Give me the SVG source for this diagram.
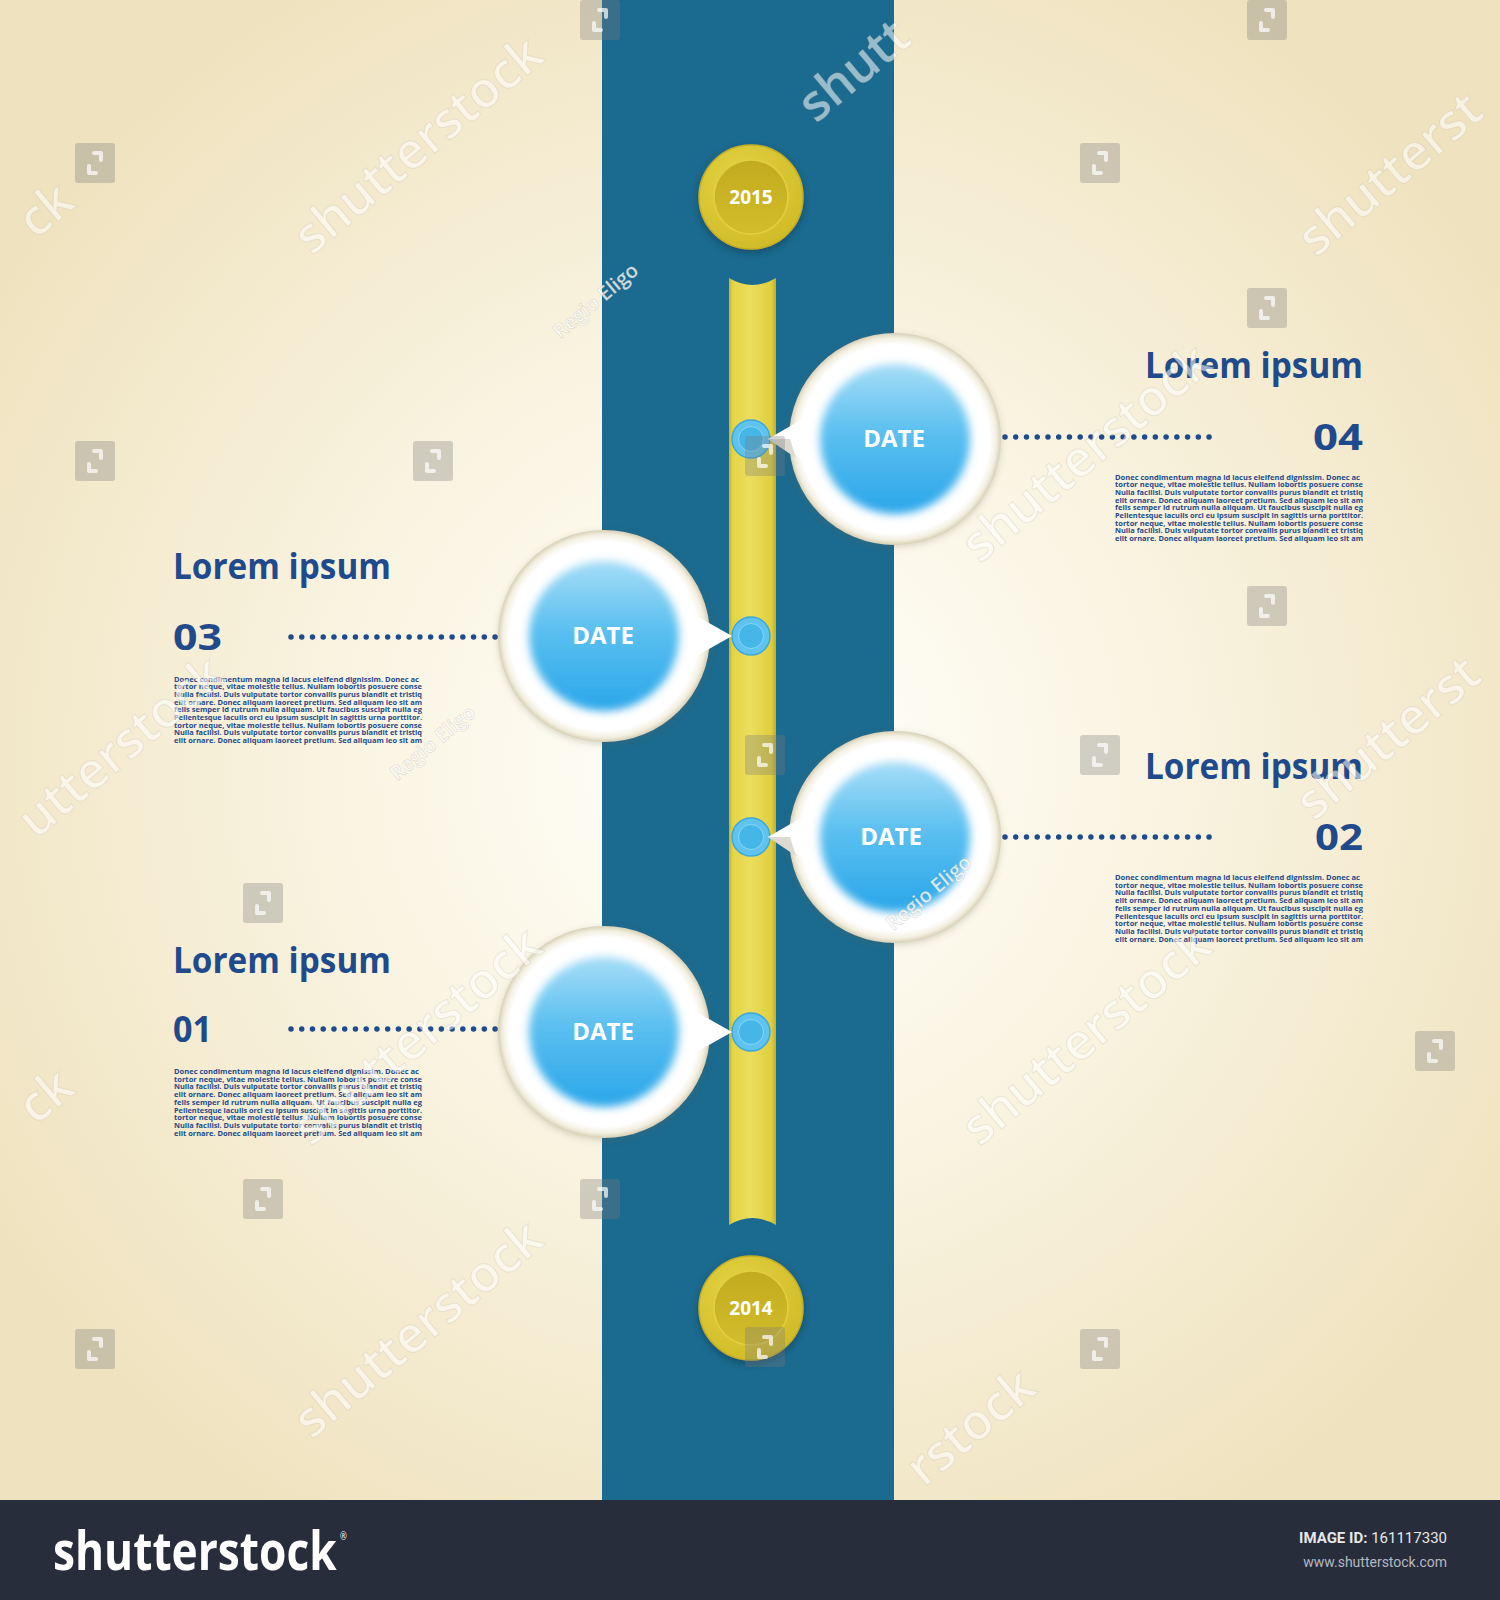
<svg xmlns="http://www.w3.org/2000/svg" width="1500" height="1600" viewBox="0 0 1500 1600">
<defs>
<style>
.head{font-family:"Open Sans","Noto Sans",sans-serif;font-weight:700;fill:#1f4a8c}
.body{font-family:"Open Sans","Noto Sans",sans-serif;font-weight:700;font-size:7px;fill:#1f4a8c}
.date{font-family:"Open Sans","Noto Sans",sans-serif;font-weight:700;font-size:24px;fill:#ffffff}
.year{font-family:"Open Sans","Noto Sans",sans-serif;font-weight:700;font-size:19px;fill:#ffffff}
.dots{stroke:#1f4a8c;stroke-width:5.5;stroke-linecap:round;stroke-dasharray:0 10.74;fill:none}
.wmt{font-family:"Open Sans","Noto Sans",sans-serif;font-weight:600;font-size:50px;fill:#ffffff;fill-opacity:0.55;stroke:#a9a28a;stroke-opacity:0.2;stroke-width:1}
.wmr{font-family:"Open Sans","Noto Sans",sans-serif;font-weight:600;font-size:20px;fill:#ffffff;fill-opacity:0.8;stroke:#9c9480;stroke-opacity:0.35;stroke-width:0.6}
</style>
<radialGradient id="bg" cx="750" cy="760" r="900" gradientUnits="userSpaceOnUse">
<stop offset="0" stop-color="#fffefb"/>
<stop offset="0.35" stop-color="#fbf7e8"/>
<stop offset="1" stop-color="#efe2be"/>
</radialGradient>
<linearGradient id="bar" x1="729" y1="0" x2="776" y2="0" gradientUnits="userSpaceOnUse">
<stop offset="0" stop-color="#c6b22a"/>
<stop offset="0.08" stop-color="#e4d446"/>
<stop offset="0.45" stop-color="#ecde5e"/>
<stop offset="0.9" stop-color="#e0ce3e"/>
<stop offset="1" stop-color="#c3af28"/>
</linearGradient>
<radialGradient id="bubble" cx="0.5" cy="0.5" r="0.5">
<stop offset="0" stop-color="#ffffff"/>
<stop offset="0.89" stop-color="#ffffff"/>
<stop offset="0.955" stop-color="#f3efe0"/>
<stop offset="1" stop-color="#d8d0b6"/>
</radialGradient>
<linearGradient id="blue" x1="0" y1="0" x2="0" y2="1">
<stop offset="0" stop-color="#a6ddf7"/>
<stop offset="0.45" stop-color="#5cc0f0"/>
<stop offset="1" stop-color="#2aa6e9"/>
</linearGradient>
<radialGradient id="coinOuter" cx="0.4" cy="0.35" r="0.7">
<stop offset="0" stop-color="#e6d546"/>
<stop offset="1" stop-color="#d0ba26"/>
</radialGradient>
<linearGradient id="coinInner" x1="0" y1="0" x2="0" y2="1">
<stop offset="0" stop-color="#c2ab1e"/>
<stop offset="1" stop-color="#d2bd2c"/>
</linearGradient>
<filter id="soft" x="-20%" y="-20%" width="140%" height="140%"><feGaussianBlur stdDeviation="4"/></filter>
<filter id="shadow" x="-20%" y="-20%" width="140%" height="140%"><feDropShadow dx="0" dy="2" stdDeviation="3" flood-color="#6b6347" flood-opacity="0.25"/></filter>
<filter id="coinShadow" x="-30%" y="-30%" width="160%" height="160%"><feDropShadow dx="0" dy="3" stdDeviation="3" flood-color="#0d3a52" flood-opacity="0.6"/></filter>
<g id="lorem" class="body">
<text x="0" y="0" textLength="245" lengthAdjust="spacingAndGlyphs">Donec condimentum magna id lacus eleifend dignissim. Donec ac</text>
<text x="0" y="7.7" textLength="248" lengthAdjust="spacingAndGlyphs">tortor neque, vitae molestie tellus. Nullam lobortis posuere  conse</text>
<text x="0" y="15.4" textLength="248" lengthAdjust="spacingAndGlyphs">Nulla facilisi. Duis vulputate tortor convallis purus blandit et tristiq</text>
<text x="0" y="23.1" textLength="248" lengthAdjust="spacingAndGlyphs">elit ornare. Donec aliquam laoreet pretium. Sed aliquam leo sit am</text>
<text x="0" y="30.8" textLength="248" lengthAdjust="spacingAndGlyphs">felis semper id rutrum nulla aliquam. Ut faucibus suscipit nulla eg</text>
<text x="0" y="38.5" textLength="248" lengthAdjust="spacingAndGlyphs">Pellentesque iaculis orci eu ipsum suscipit in sagittis urna porttitor.</text>
<text x="0" y="46.2" textLength="248" lengthAdjust="spacingAndGlyphs">tortor neque, vitae molestie tellus. Nullam lobortis posuere  conse</text>
<text x="0" y="53.9" textLength="248" lengthAdjust="spacingAndGlyphs">Nulla facilisi. Duis vulputate tortor convallis purus blandit et tristiq</text>
<text x="0" y="61.6" textLength="248" lengthAdjust="spacingAndGlyphs">elit ornare. Donec aliquam laoreet pretium. Sed aliquam leo sit am</text>
</g>
<g id="wmicon">
<rect x="-20" y="-20" width="40" height="40" rx="3" fill="#7a7a7a" fill-opacity="0.32"/>
<path d="M-1 -10 H6 V-3 M1 10 H-6 V3" fill="none" stroke="#ffffff" stroke-opacity="0.7" stroke-width="4" stroke-linecap="round" stroke-linejoin="round"/>
</g>
</defs>

<rect x="0" y="0" width="1500" height="1500" fill="url(#bg)"/>
<rect x="602" y="0" width="292" height="1500" fill="#1b6a8f"/>

<g id="timeline-bar">
<path d="M729 278 Q752.5 292 776 278 L776 1225 Q752.5 1211 729 1225 Z" fill="url(#bar)"/>
</g>

<g id="coin-2015">
<circle cx="751" cy="197" r="52" fill="url(#coinOuter)" stroke="#c4ae22" stroke-width="1.5" filter="url(#coinShadow)"/>
<circle cx="751" cy="197" r="37" fill="url(#coinInner)" stroke="#e2cf44" stroke-width="1.5"/>
<text class="year" x="751" y="204" text-anchor="middle">2015</text>
</g>
<g id="coin-2014">
<circle cx="751" cy="1308" r="52" fill="url(#coinOuter)" stroke="#c4ae22" stroke-width="1.5" filter="url(#coinShadow)"/>
<circle cx="751" cy="1308" r="37" fill="url(#coinInner)" stroke="#e2cf44" stroke-width="1.5"/>
<text class="year" x="751" y="1315" text-anchor="middle">2014</text>
</g>

<g id="connectors">
<line class="dots" x1="1005" y1="437" x2="1210" y2="437"/>
<line class="dots" x1="291" y1="637" x2="500" y2="637"/>
<line class="dots" x1="1005" y1="837" x2="1210" y2="837"/>
<line class="dots" x1="291" y1="1029" x2="500" y2="1029"/>
</g>

<g id="dot-04"><circle cx="751" cy="439" r="19" fill="#5ec4ef" stroke="#3ba8dc" stroke-width="1.5"/><circle cx="751" cy="439" r="12.5" fill="#45b6e8" stroke="#8ad6f4" stroke-width="1"/></g>
<g id="dot-03"><circle cx="751" cy="636" r="19" fill="#5ec4ef" stroke="#3ba8dc" stroke-width="1.5"/><circle cx="751" cy="636" r="12.5" fill="#45b6e8" stroke="#8ad6f4" stroke-width="1"/></g>
<g id="dot-02"><circle cx="751" cy="837" r="19" fill="#5ec4ef" stroke="#3ba8dc" stroke-width="1.5"/><circle cx="751" cy="837" r="12.5" fill="#45b6e8" stroke="#8ad6f4" stroke-width="1"/></g>
<g id="dot-01"><circle cx="751" cy="1032" r="19" fill="#5ec4ef" stroke="#3ba8dc" stroke-width="1.5"/><circle cx="751" cy="1032" r="12.5" fill="#45b6e8" stroke="#8ad6f4" stroke-width="1"/></g>

<g id="bubble-04">
<circle cx="895" cy="439" r="106" fill="url(#bubble)" filter="url(#shadow)"/>
<path d="M768 439 L806 417 L806 461 Z" fill="#ffffff"/>
<path d="M768 439 L790 439 L796 458 Z" fill="#dcdad3"/>
<circle cx="895" cy="439" r="75" fill="url(#blue)" filter="url(#soft)"/>
<text class="date" x="894" y="447" text-anchor="middle">DATE</text>
</g>
<g id="bubble-03">
<circle cx="604" cy="636" r="106" fill="url(#bubble)" filter="url(#shadow)"/>
<path d="M732 636 L693 614 L693 658 Z" fill="#ffffff"/>
<circle cx="604" cy="636" r="75" fill="url(#blue)" filter="url(#soft)"/>
<text class="date" x="603" y="644" text-anchor="middle">DATE</text>
</g>
<g id="bubble-02">
<circle cx="895" cy="837" r="106" fill="url(#bubble)" filter="url(#shadow)"/>
<path d="M768 837 L806 815 L806 859 Z" fill="#ffffff"/>
<path d="M768 837 L790 837 L796 856 Z" fill="#dcdad3"/>
<circle cx="895" cy="837" r="75" fill="url(#blue)" filter="url(#soft)"/>
<text class="date" x="891" y="845" text-anchor="middle">DATE</text>
</g>
<g id="bubble-01">
<circle cx="604" cy="1032" r="106" fill="url(#bubble)" filter="url(#shadow)"/>
<path d="M732 1032 L693 1010 L693 1054 Z" fill="#ffffff"/>
<circle cx="604" cy="1032" r="75" fill="url(#blue)" filter="url(#soft)"/>
<text class="date" x="603" y="1040" text-anchor="middle">DATE</text>
</g>

<g id="label-04">
<text class="head" x="1363" y="378" font-size="35" text-anchor="end" textLength="218" lengthAdjust="spacingAndGlyphs">Lorem ipsum</text>
<text class="head" x="1363" y="450" font-size="35" text-anchor="end" textLength="50" lengthAdjust="spacingAndGlyphs">04</text>
<use href="#lorem" x="1115" y="479.5"/>
</g>
<g id="label-03">
<text class="head" x="173" y="579" font-size="35" textLength="218" lengthAdjust="spacingAndGlyphs">Lorem ipsum</text>
<text class="head" x="173" y="650" font-size="35" textLength="49" lengthAdjust="spacingAndGlyphs">03</text>
<use href="#lorem" x="174" y="681.5"/>
</g>
<g id="label-02">
<text class="head" x="1363" y="779" font-size="35" text-anchor="end" textLength="218" lengthAdjust="spacingAndGlyphs">Lorem ipsum</text>
<text class="head" x="1363" y="850" font-size="35" text-anchor="end" textLength="48" lengthAdjust="spacingAndGlyphs">02</text>
<use href="#lorem" x="1115" y="880"/>
</g>
<g id="label-01">
<text class="head" x="173" y="973" font-size="35" textLength="218" lengthAdjust="spacingAndGlyphs">Lorem ipsum</text>
<text class="head" x="173" y="1042" font-size="35" textLength="39" lengthAdjust="spacingAndGlyphs">01</text>
<use href="#lorem" x="174" y="1074"/>
</g>

<g id="watermarks">
<use href="#wmicon" x="95" y="163"/>
<use href="#wmicon" x="95" y="461"/>
<use href="#wmicon" x="433" y="461"/>
<use href="#wmicon" x="263" y="903"/>
<use href="#wmicon" x="263" y="1199"/>
<use href="#wmicon" x="95" y="1349"/>
<use href="#wmicon" x="600" y="1199"/>
<use href="#wmicon" x="600" y="20"/>
<use href="#wmicon" x="1100" y="163"/>
<use href="#wmicon" x="1267" y="20"/>
<use href="#wmicon" x="1267" y="308"/>
<use href="#wmicon" x="1267" y="606"/>
<use href="#wmicon" x="1100" y="755"/>
<use href="#wmicon" x="1435" y="1051"/>
<use href="#wmicon" x="1100" y="1349"/>
<use href="#wmicon" x="765" y="755"/>
<use href="#wmicon" x="765" y="1347"/>
<use href="#wmicon" x="765" y="456"/>
<text class="wmt" text-anchor="middle" transform="translate(429 158) rotate(-40)">shutterstock</text>
<text class="wmt" transform="translate(816 124) rotate(-40)">shutt</text>
<text class="wmt" transform="translate(1316 258) rotate(-40)">shutterst</text>
<text class="wmt" transform="translate(36 240) rotate(-40)">ck</text>
<text class="wmt" text-anchor="middle" transform="translate(1097 466) rotate(-40)">shutterstock</text>
<text class="wmt" transform="translate(36 840) rotate(-40)">utterstock</text>
<text class="wmt" transform="translate(1314 822) rotate(-40)">shutterst</text>
<text class="wmt" text-anchor="middle" transform="translate(1097 1049) rotate(-40)">shutterstock</text>
<text class="wmt" transform="translate(36 1126) rotate(-40)">ck</text>
<text class="wmt" text-anchor="middle" transform="translate(428 1049) rotate(-40)">shutterstock</text>
<text class="wmt" text-anchor="middle" transform="translate(429 1342) rotate(-40)">shutterstock</text>
<text class="wmt" transform="translate(924 1488) rotate(-40)">rstock</text>
<text class="wmr" text-anchor="middle" transform="translate(600 306) rotate(-40)">Regio Eligo</text>
<text class="wmr" text-anchor="middle" transform="translate(437 748) rotate(-40)">Regio Eligo</text>
<text class="wmr" text-anchor="middle" transform="translate(933 898) rotate(-40)">Regio Eligo</text>
</g>

<g id="footer">
<rect x="0" y="1500" width="1500" height="100" fill="#272d3a"/>
<text transform="translate(53 1570) scale(0.82 1)" font-family="'Open Sans','Noto Sans',sans-serif" font-weight="700" font-size="54" fill="#ffffff">shutterstock<tspan font-size="10" font-weight="400" dx="4" dy="-30">®</tspan></text>
<text x="1447" y="1543" text-anchor="end" font-family="Roboto,'Open Sans',sans-serif" font-size="15" fill="#e6e7ea"><tspan font-weight="700">IMAGE ID:</tspan> 161117330</text>
<text x="1447" y="1567" text-anchor="end" font-family="Roboto,'Open Sans',sans-serif" font-size="14" fill="#b5b9c2">www.shutterstock.com</text>
</g>
</svg>
